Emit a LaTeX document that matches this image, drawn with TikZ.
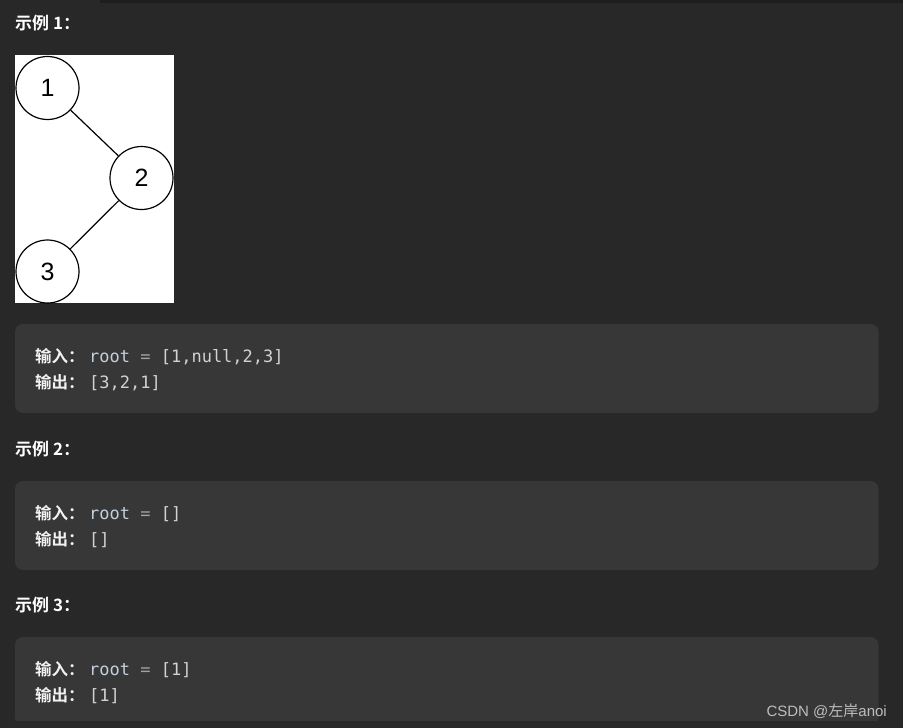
\documentclass[tikz,border=0pt]{standalone}
\usepackage{fontspec}
\setmainfont{Liberation Sans}
\setmonofont{DejaVu Sans Mono}
\newfontfamily\cjk{Noto Sans CJK SC}[BoldFont={Noto Sans CJK SC Bold}]
\definecolor{pagebg}{HTML}{282828}
\definecolor{barbg}{HTML}{1E1E1E}
\definecolor{boxbg}{HTML}{373737}
\definecolor{keyc}{HTML}{F2F2F2}
\definecolor{idc}{HTML}{C3CFDA}
\definecolor{opc}{HTML}{9EA3A8}
\definecolor{valc}{HTML}{D2D2D2}
\definecolor{markc}{HTML}{BDBDBD}
\tikzset{
    treenode/.style={circle, draw=black, fill=white, line width=1.2pt, minimum size=63pt, inner sep=0pt, font=\fontsize{25}{25}\selectfont},
    heading/.style={anchor=base west, inner sep=0pt, text=white, font=\cjk\bfseries\fontsize{17}{17}\selectfont},
    keytext/.style={anchor=base west, inner sep=0pt, text=keyc, font=\cjk\bfseries\fontsize{16.5}{16.5}\selectfont},
    codetext/.style={anchor=base west, inner sep=0pt, text=valc, font=\ttfamily\fontsize{17}{17}\selectfont},
    codebox/.style={fill=boxbg, rounded corners=8pt}
}
\begin{document}
\begin{tikzpicture}[x=1pt, y=-1pt]
    \fill[pagebg] (0, 0) rectangle (903, 728);
    \fill[barbg] (100, 0) rectangle (903, 2.5);
    % example 1 picture
    \node[heading] (head1) at (15, 29) {示例 1：};
    \fill[white] (15, 55) rectangle (174, 303);
    \node[treenode] (n1) at (47.5, 88) {1};
    \node[treenode] (n2) at (141.5, 178) {2};
    \node[treenode] (n3) at (47.5, 271.5) {3};
    \draw[line width=1.2pt] (n1) -- (n2);
    \draw[line width=1.2pt] (n3) -- (n2);
    % code boxes
    \begin{scope}
        \clip (0, 0) rectangle (903, 720);
        \foreach \i/\top/\inp/\outp in {1/324/{[1,null,2,3]}/{[3,2,1]}, 2/481/{[]}/{[]}, 3/637/{[1]}/{[1]}}
            {\fill[codebox] (15, \top) rectangle (878.5, \top+89);
            \node[keytext] (inkey\i) at (35, \top+38) {输入：};
            \node[codetext] (inval\i) at (89, \top+38) {{\color{idc}root} {\color{opc}=} \inp};
            \node[keytext] (outkey\i) at (35, \top+64) {输出：};
            \node[codetext] (outval\i) at (89, \top+64) {\outp};}
    \end{scope}
    \node[heading] (head2) at (15, 455) {示例 2：};
    \node[heading] (head3) at (15, 611) {示例 3：};
    \node[anchor=base east, inner sep=0pt, text=markc, font=\fontsize{15}{15}\selectfont] (mark) at (887, 716) {CSDN @{\cjk 左岸}anoi};
\end{tikzpicture}
\end{document}
